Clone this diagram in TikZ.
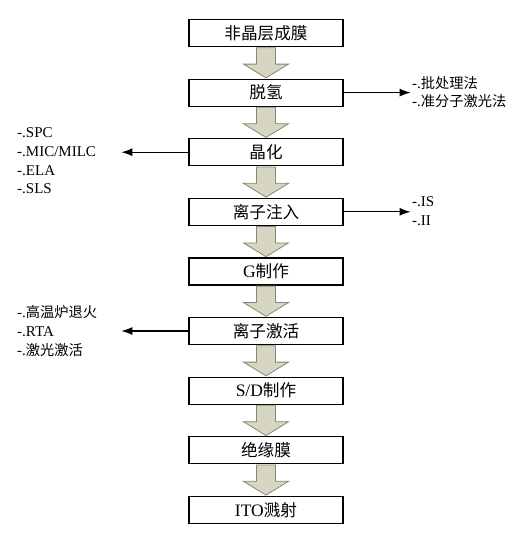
\documentclass[tikz,border=0pt]{standalone}
\usepackage{xcolor}
\usepackage{fontspec}
\setmainfont{Liberation Serif}
\newfontfamily\cjk{Noto Sans CJK SC}[Scale=0.95]
\usepackage{tikz}
\usetikzlibrary{positioning,calc,arrows.meta}
\definecolor{arrowfill}{RGB}{214,214,194}
\definecolor{arrowline}{RGB}{135,135,118}

\begin{document}
\begin{tikzpicture}[x=1pt,y=1pt,
	level distance=59.6pt,
	edge from parent/.style={draw=none},
	stepbox/.style={draw, line width=1.2pt, minimum width=154pt, minimum height=27pt, inner sep=0pt, font=\fontsize{17.5}{20}\selectfont},
	every child node/.style={stepbox},
	sidetext/.style={align=left, inner sep=0pt, font=\fontsize{15}{18.7}\selectfont},
	sidearrow/.style={line width=1.1pt, -{Latex[length=11pt,width=8pt]}},
	blockarrow/.style={fill=arrowfill, draw=arrowline, line width=0.8pt}]
\useasboundingbox (0,0) rectangle (521,-538);
\node[stepbox] (s1) at (266,-33) {\cjk 非晶层成膜} {
	child {
		node (s2) {\cjk 脱氢}
		child {
			node (s3) {\cjk 晶化}
			child {
				node (s4) {\cjk 离子注入}
				child {
					node (s5) {G{\cjk 制作}}
					child {
						node (s6) {\cjk 离子激活}
						child {
							node (s7) {S/D{\cjk 制作}}
							child {
								node (s8) {\cjk 绝缘膜}
								child {
									node (s9) {ITO{\cjk 溅射}}
								}
							}
						}
					}
				}
			}
		}
	}
};
\foreach \a/\b in {s1/s2,s2/s3,s3/s4,s4/s5,s5/s6,s6/s7,s7/s8,s8/s9}
	\draw[blockarrow] ($(\a.south)+(-9.5,-0.6)$) -- ($(\a.south)+(-9.5,-17)$) -- ($(\a.south)+(-22.5,-17)$) -- ($(\b.north)+(0,0.6)$) -- ($(\a.south)+(22.5,-17)$) -- ($(\a.south)+(9.5,-17)$) -- ($(\a.south)+(9.5,-0.6)$) -- cycle;

\node[sidetext, anchor=west] (t2) at (412,-92) {-.{\cjk 批处理法}\\-.{\cjk 准分子激光法}};
\node[sidetext, anchor=west] (t3) at (17,-161) {-.SPC\\-.MIC/MILC\\-.ELA\\-.SLS};
\node[sidetext, anchor=west] (t4) at (412,-211) {-.IS\\-.II};
\node[sidetext, anchor=west] (t6) at (17,-331) {-.{\cjk 高温炉退火}\\-.RTA\\-.{\cjk 激光激活}};

\coordinate (a2) at ([xshift=67pt]s2.east);
\coordinate (a3) at ([xshift=-67pt]s3.west);
\coordinate (a4) at ([xshift=67pt]s4.east);
\coordinate (a6) at ([xshift=-67pt]s6.west);
\draw[sidearrow] (s2.east) -- (a2);
\draw[sidearrow] (s3.west) -- (a3);
\draw[sidearrow] (s4.east) -- (a4);
\draw[sidearrow] (s6.west) -- (a6);
\end{tikzpicture}
\end{document}
